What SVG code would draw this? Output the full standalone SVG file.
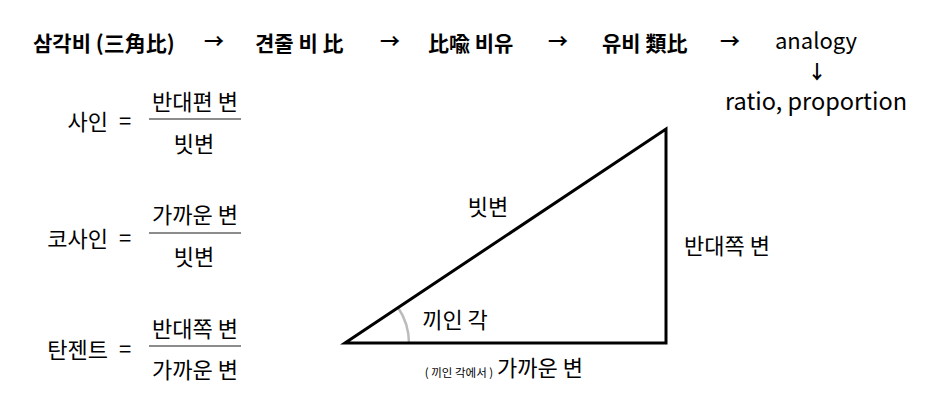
<svg xmlns="http://www.w3.org/2000/svg" width="940" height="409" viewBox="0 0 940 409">
<style>
text{font-family:"Noto Sans CJK KR","Noto Sans",sans-serif;fill:#000}
.t{font-size:21px;font-weight:bold}
.a{font-size:20px;font-weight:bold}
.d{font-size:19px;font-weight:bold}
.e{font-size:22px}
.p{font-size:23.5px}
.f{font-size:22px}
.m{text-anchor:middle}
.r{text-anchor:end}
.frac{stroke:#666;stroke-width:1.5}
.s{font-size:11.5px}
</style>
<rect width="940" height="409" fill="#fff"/>
<g id="chain">
<text class="t" x="33" y="51">삼각비 (三角比)</text>
<text class="a m" x="214" y="49">→</text>
<text class="t" x="255" y="51">견줄 비 比</text>
<text class="a m" x="390" y="49">→</text>
<text class="t" x="428" y="51">比喩 비유</text>
<text class="a m" x="558" y="49">→</text>
<text class="t" x="602" y="51">유비 類比</text>
<text class="a m" x="730" y="49">→</text>
<text class="e m" x="816" y="49">analogy</text>
<text class="d m" x="817" y="79">↓</text>
<text class="p m" x="816" y="110">ratio, proportion</text>
</g>
<g id="sine">
<text class="f r" x="108" y="130">사인</text>
<text class="f m" x="125" y="129">=</text>
<text class="f m" x="195" y="110">반대편 변</text>
<line class="frac" x1="149" y1="119" x2="241" y2="119"/>
<text class="f m" x="194" y="152">빗변</text>
</g>
<g id="cosine">
<text class="f r" x="108" y="247">코사인</text>
<text class="f m" x="125" y="246">=</text>
<text class="f m" x="195" y="223">가까운 변</text>
<line class="frac" x1="149" y1="233" x2="241" y2="233"/>
<text class="f m" x="194" y="265">빗변</text>
</g>
<g id="tangent">
<text class="f r" x="108" y="358">탄젠트</text>
<text class="f m" x="125" y="357">=</text>
<text class="f m" x="195" y="337">반대쪽 변</text>
<line class="frac" x1="149" y1="346" x2="241" y2="346"/>
<text class="f m" x="195" y="378">가까운 변</text>
</g>
<g id="triangle">
<path d="M398 307.5 A64 64 0 0 1 409 343" fill="none" stroke="#bbb" stroke-width="2.5"/>
<polygon points="345,343 666,129 666,343" fill="none" stroke="#000" stroke-width="3" stroke-linejoin="miter"/>
<text class="f m" x="488" y="215">빗변</text>
<text class="f m" x="727" y="254">반대쪽 변</text>
<text class="f m" x="455" y="328">끼인 각</text>
<text class="s m" x="459" y="377">( 끼인 각에서 )</text>
<text class="f m" x="540" y="376">가까운 변</text>
</g>
</svg>
